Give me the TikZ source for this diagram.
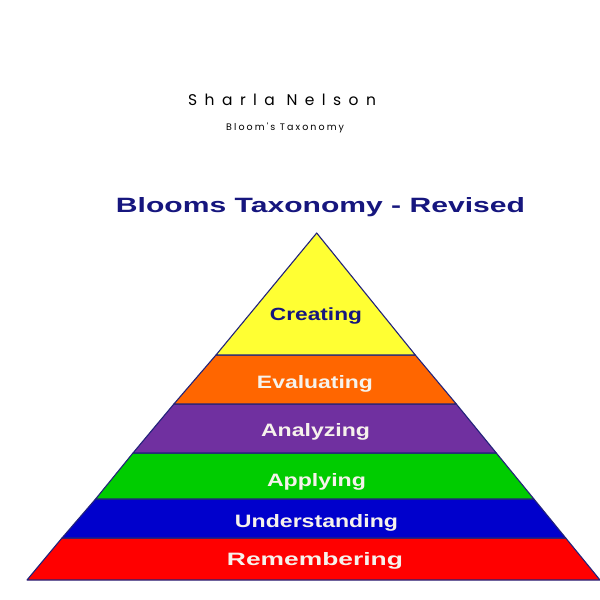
\documentclass[tikz,border=0pt]{standalone}
\usepackage{fontspec}
\setmainfont{Liberation Sans}
\newfontfamily\hdrA[LetterSpace=48]{Poppins}
\newfontfamily\hdrB[LetterSpace=22]{Poppins}
\definecolor{navyline}{HTML}{22227A}
\definecolor{titleblue}{HTML}{16167E}
\definecolor{cyellow}{HTML}{FFFF33}
\definecolor{corange}{HTML}{FF6600}
\definecolor{cpurple}{HTML}{7030A0}
\definecolor{cgreen}{HTML}{00CC00}
\definecolor{cblue}{HTML}{0000CC}
\definecolor{cred}{HTML}{FF0000}
\definecolor{lbltext}{HTML}{F6F2EC}
\newcommand{\lblbox}[3]{\resizebox{#1pt}{#2pt}{\bfseries #3}}
\begin{document}
\begin{tikzpicture}[x=1pt,y=-1pt,
  layer/.style={draw=navyline,line width=1.1pt,line join=round},
  lbl/.style={inner sep=0pt,anchor=base,text=lbltext}]
\useasboundingbox (0,0) rectangle (600,600);
\fill[white] (0,0) rectangle (600,600);
% header
\node[inner sep=0pt,anchor=base west] (author) at (188,105) {\hdrA\fontsize{15.5}{18}\selectfont Sharla Nelson};
\node[inner sep=0pt,anchor=base west] (sub) at (226,130) {\hdrB\fontsize{9.5}{11}\selectfont Bloom's Taxonomy};
% title
\node[inner sep=0pt,anchor=base,text=titleblue] (title) at (320.5,212) {\lblbox{409}{15}{Blooms Taxonomy - Revised}};
% layers
\path[layer,fill=cred]    (27,580) -- (600,580) -- (565.7,538) -- (62.0,538) -- cycle;
\path[layer,fill=cblue]   (62.0,538) -- (565.7,538) -- (533.9,499) -- (95.6,499) -- cycle;
\path[layer,fill=cgreen]  (95.6,499) -- (533.9,499) -- (496.3,453) -- (133.0,453) -- cycle;
\path[layer,fill=cpurple] (133.0,453) -- (496.3,453) -- (456.3,404) -- (173.9,404) -- cycle;
\path[layer,fill=corange] (173.9,404) -- (456.3,404) -- (415.3,355) -- (216.0,355) -- cycle;
\path[layer,fill=cyellow] (216.0,355) -- (415.3,355) -- (316.7,233) -- cycle;
% labels
\node[lbl,text=titleblue] (creating) at (316,320) {\lblbox{92}{12.8}{Creating}};
\node[lbl] (evaluating) at (315,388) {\lblbox{116}{13}{Evaluating}};
\node[lbl] (analyzing) at (315.5,436) {\lblbox{109}{13}{Analyzing}};
\node[lbl] (applying) at (316.5,486) {\lblbox{99}{13}{Applying}};
\node[lbl] (understanding) at (316.5,527) {\lblbox{163}{13}{Understanding}};
\node[lbl] (remembering) at (315,565) {\lblbox{176}{13}{Remembering}};
\end{tikzpicture}
\end{document}
